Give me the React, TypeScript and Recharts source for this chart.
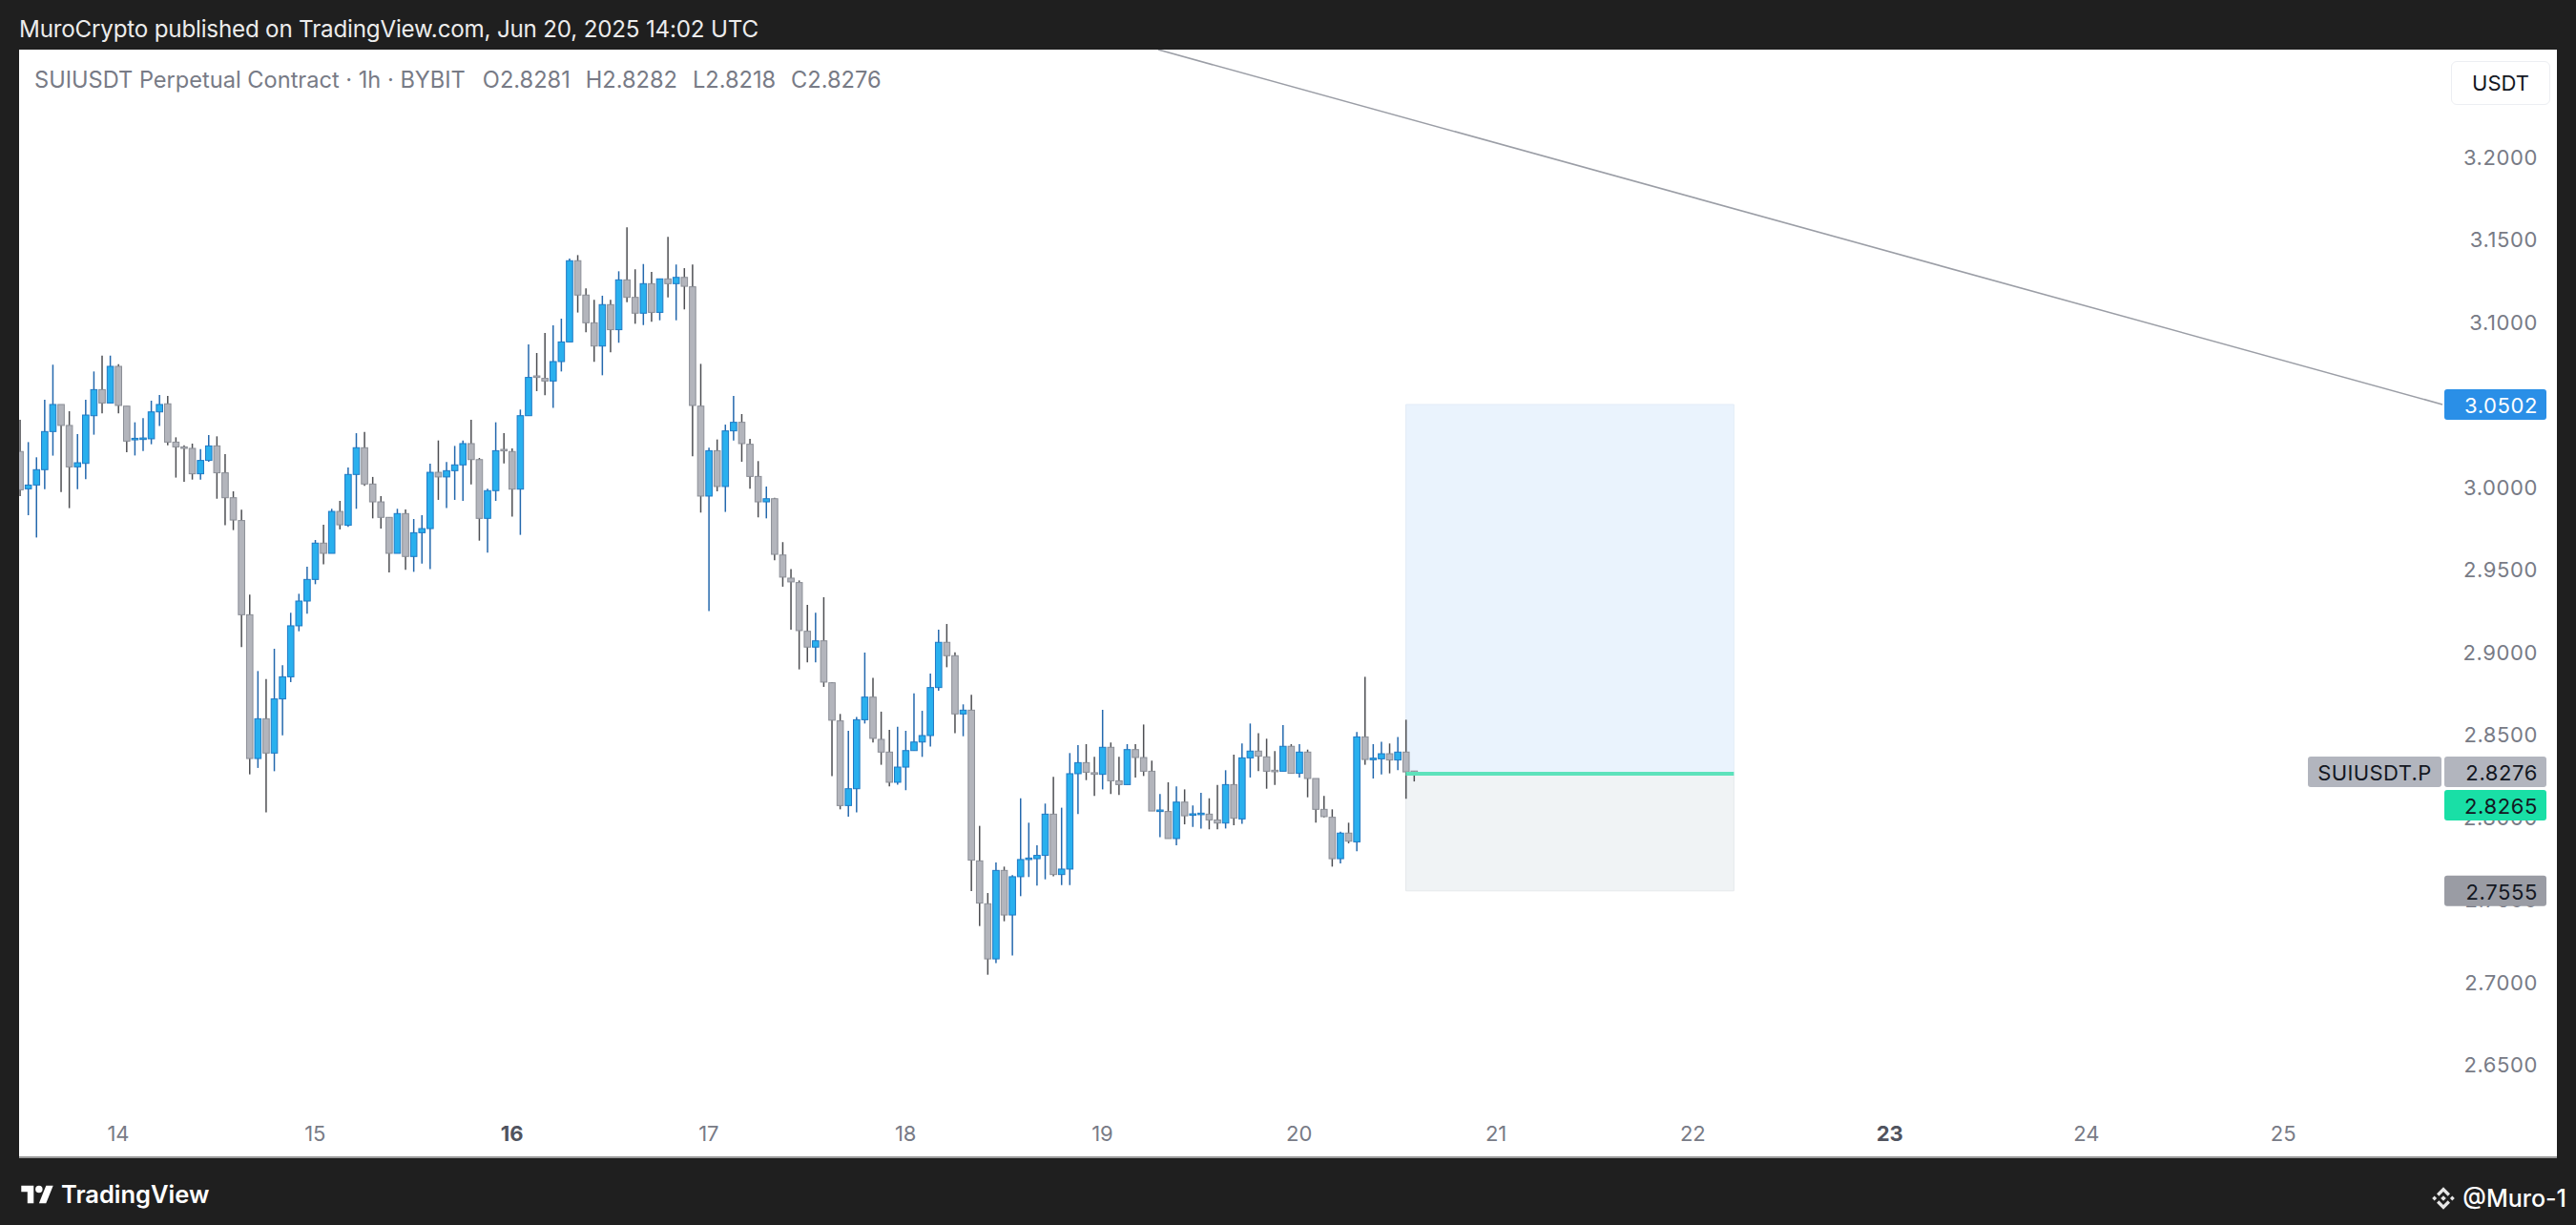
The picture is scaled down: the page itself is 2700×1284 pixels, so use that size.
import React from 'react';
import { Bar, ComposedChart, ReferenceArea, ReferenceLine, XAxis, YAxis } from 'recharts';

// hours counted from Jun 14 00:00 UTC; first candle is Jun 13 12:00
const FIRST_HOUR = -12;

const opens = [
  3.0217, 2.9991, 3.0014, 3.0107, 3.0338, 3.0502, 3.0375, 3.0124, 3.0145, 3.0434, 3.0592, 3.0511,
  3.0733, 3.0492, 3.0294, 3.0296, 3.0294, 3.0457, 3.0506, 3.0274, 3.0245, 3.0236, 3.0082, 3.0163,
  3.0251, 3.0088, 2.9937, 2.9799, 2.9228, 2.8357, 2.8598, 2.839, 2.8718, 2.8852, 2.9161, 2.9311,
  2.9442, 2.9662, 2.96, 2.9854, 2.977, 3.0078, 3.024, 3.002, 2.9912, 2.9818, 2.96, 2.9841,
  2.9581, 2.9725, 2.975, 3.0091, 3.0063, 3.0101, 3.0136, 3.0265, 3.0168, 2.9812, 2.998, 3.023,
  3.0217, 2.9989, 3.0434, 3.0675, 3.066, 3.0644, 3.0762, 3.0881, 3.1373, 3.1165, 3.0997, 3.0856,
  3.1107, 3.0955, 3.1257, 3.1151, 3.1055, 3.1234, 3.106, 3.1263, 3.1234, 3.1272, 3.1215, 3.0492,
  2.9947, 3.0222, 3.0005, 3.0342, 3.0394, 3.0261, 3.0066, 2.9912, 2.9931, 2.959, 2.945, 2.9423,
  2.9128, 2.9032, 2.907, 2.8816, 2.8585, 2.8072, 2.8174, 2.8592, 2.8729, 2.8473, 2.8396, 2.8213,
  2.8305, 2.8405, 2.8457, 2.8496, 2.8787, 2.9061, 2.898, 2.8627, 2.865, 2.7737, 2.7477, 2.7143,
  2.7679, 2.7409, 2.7641, 2.7745, 2.775, 2.777, 2.802, 2.7654, 2.7687, 2.8265, 2.8332, 2.8271,
  2.8261, 2.8425, 2.8222, 2.8199, 2.8411, 2.8363, 2.828, 2.8039, 2.8036, 2.7872, 2.8093, 2.8016,
  2.802, 2.802, 2.7985, 2.7966, 2.8199, 2.7991, 2.8361, 2.8402, 2.8367, 2.8286, 2.828, 2.8431,
  2.8267, 2.8396, 2.8236, 2.8049, 2.8001, 2.775, 2.7905, 2.7852, 2.8488, 2.8353, 2.8355, 2.8386,
  2.8348, 2.8396, 2.8281,
];

const highs = [
  3.0409, 3.0274, 3.0182, 3.0531, 3.0743, 3.0502, 3.0461, 3.0323, 3.0531, 3.0702, 3.0798, 3.0798,
  3.0746, 3.0492, 3.0394, 3.0419, 3.0525, 3.056, 3.0554, 3.0303, 3.0255, 3.0265, 3.0232, 3.0317,
  3.0309, 3.0201, 2.9976, 2.9864, 2.935, 2.8887, 2.8839, 2.9022, 2.8922, 2.924, 2.9355, 2.9519,
  2.9681, 2.9773, 2.987, 2.9918, 3.012, 3.0328, 3.0336, 3.0063, 2.9947, 2.9818, 2.987, 2.9866,
  2.9808, 2.9831, 3.0143, 3.0284, 3.0153, 3.0251, 3.0284, 3.0409, 3.0178, 2.9991, 3.0394, 3.0328,
  3.0236, 3.0471, 3.0866, 3.0814, 3.0935, 3.0982, 3.1022, 3.1386, 3.1407, 3.1205, 3.1136, 3.1161,
  3.1136, 3.1309, 3.1575, 3.1321, 3.1353, 3.1305, 3.1263, 3.1517, 3.135, 3.1328, 3.135, 3.0748,
  3.024, 3.029, 3.038, 3.0554, 3.0444, 3.0294, 3.0159, 3.0005, 2.9937, 2.9668, 2.9504, 2.9436,
  2.9288, 2.924, 2.9334, 2.882, 2.8627, 2.8525, 2.8608, 2.8999, 2.8845, 2.8641, 2.8531, 2.855,
  2.8525, 2.8752, 2.8646, 2.8872, 2.9138, 2.9172, 2.9, 2.8685, 2.8743, 2.7949, 2.7542, 2.7727,
  2.7702, 2.765, 2.8116, 2.7968, 2.7831, 2.8084, 2.8246, 2.8059, 2.839, 2.8438, 2.8444, 2.8367,
  2.8652, 2.8454, 2.8367, 2.8444, 2.8444, 2.8563, 2.8344, 2.8142, 2.8213, 2.8188, 2.817, 2.8072,
  2.8149, 2.8116, 2.8197, 2.8286, 2.838, 2.8448, 2.8569, 2.8511, 2.8477, 2.8402, 2.856, 2.8444,
  2.8444, 2.8411, 2.8236, 2.813, 2.8049, 2.7914, 2.7968, 2.8517, 2.8852, 2.8444, 2.8459, 2.8448,
  2.8488, 2.8592, 2.8282,
];

const lows = [
  2.9947, 2.9831, 2.9696, 2.9989, 3.0192, 2.9972, 2.9874, 2.9989, 3.0049, 3.0319, 3.0448, 3.0511,
  3.0448, 3.0213, 3.0193, 3.022, 3.0261, 3.0371, 3.0255, 3.0059, 3.0034, 3.0047, 3.0047, 3.0155,
  2.9931, 2.977, 2.9741, 2.9032, 2.8261, 2.83, 2.803, 2.828, 2.8498, 2.882, 2.9128, 2.9234,
  2.9413, 2.9533, 2.96, 2.9745, 2.976, 2.987, 3.0009, 2.9812, 2.975, 2.9484, 2.96, 2.95,
  2.9488, 2.9538, 2.9504, 2.9924, 2.9874, 2.9924, 2.9918, 3.0018, 2.9677, 2.9604, 2.9918, 3.0145,
  2.9822, 2.9712, 3.0434, 3.0583, 3.0558, 3.0482, 3.0702, 3.0881, 3.1059, 3.0939, 3.076, 3.0679,
  3.0818, 3.0876, 3.1122, 3.0991, 3.0983, 3.1003, 3.1012, 3.1151, 3.1012, 3.1078, 3.0188, 2.9847,
  2.925, 2.9976, 2.9851, 3.0284, 3.0155, 2.9991, 2.9818, 2.9812, 2.9558, 2.9398, 2.9138, 2.8897,
  2.8939, 2.8939, 2.8791, 2.8251, 2.8049, 2.8005, 2.803, 2.8569, 2.8454, 2.8319, 2.8188, 2.8199,
  2.8165, 2.8405, 2.8367, 2.8429, 2.8768, 2.891, 2.8511, 2.8492, 2.7554, 2.7342, 2.7047, 2.7118,
  2.7371, 2.7163, 2.7523, 2.7639, 2.7587, 2.7625, 2.7644, 2.759, 2.759, 2.802, 2.8226, 2.813,
  2.817, 2.8142, 2.8136, 2.8199, 2.8242, 2.8251, 2.8039, 2.7881, 2.7872, 2.7831, 2.7958, 2.7943,
  2.7933, 2.7928, 2.7928, 2.7933, 2.7953, 2.7962, 2.8242, 2.828, 2.8174, 2.8197, 2.828, 2.8267,
  2.8242, 2.8122, 2.7968, 2.8001, 2.7702, 2.7721, 2.7843, 2.7795, 2.8319, 2.8236, 2.8261, 2.8267,
  2.8286, 2.8113, 2.8218,
];

const closes = [
  2.9985, 3.0014, 3.0107, 3.0338, 3.0502, 3.0375, 3.0124, 3.0149, 3.0438, 3.0592, 3.0511, 3.0733,
  3.0496, 3.028, 3.0297, 3.0299, 3.0457, 3.0502, 3.0274, 3.0245, 3.0236, 3.0082, 3.0163, 3.0251,
  3.0088, 2.9937, 2.9802, 2.9228, 2.8357, 2.8598, 2.839, 2.8718, 2.8852, 2.9161, 2.9311, 2.9442,
  2.9662, 2.96, 2.9854, 2.9773, 3.0078, 3.024, 3.002, 2.9912, 2.9818, 2.96, 2.9841, 2.9581,
  2.9725, 2.975, 3.0091, 3.0063, 3.0101, 3.0136, 3.0265, 3.0168, 2.9812, 2.998, 3.0222, 3.0222,
  2.9989, 3.0434, 3.0666, 3.0666, 3.0644, 3.0762, 3.0881, 3.1373, 3.1165, 3.0997, 3.0856, 3.1107,
  3.0955, 3.1257, 3.1151, 3.1055, 3.1234, 3.106, 3.1263, 3.1234, 3.1272, 3.1218, 3.0496, 2.9947,
  3.0222, 3.0005, 3.0342, 3.0394, 3.0265, 3.0066, 2.9912, 2.9931, 2.9594, 2.9456, 2.9427, 2.9132,
  2.9032, 2.907, 2.882, 2.8589, 2.8072, 2.8174, 2.8592, 2.8729, 2.8479, 2.8396, 2.8213, 2.8305,
  2.8405, 2.8457, 2.8496, 2.8787, 2.9061, 2.898, 2.8627, 2.865, 2.7741, 2.7481, 2.7143, 2.7679,
  2.7409, 2.7641, 2.7745, 2.7754, 2.777, 2.802, 2.7654, 2.7687, 2.8265, 2.8332, 2.8274, 2.8261,
  2.8425, 2.8222, 2.8199, 2.8411, 2.8363, 2.828, 2.8039, 2.8045, 2.7872, 2.8093, 2.801, 2.8022,
  2.8026, 2.7985, 2.7966, 2.8199, 2.7995, 2.8361, 2.8402, 2.8371, 2.828, 2.828, 2.8431, 2.8267,
  2.8396, 2.8236, 2.8049, 2.8005, 2.775, 2.7905, 2.7856, 2.8488, 2.8351, 2.8359, 2.8386, 2.8348,
  2.8396, 2.8276, 2.8276,
];

const dayTicks = [0, 24, 48, 72, 96, 120, 144, 168, 192, 216, 240, 264];
const dayLabels = ['14', '15', '16', '17', '18', '19', '20', '21', '22', '23', '24', '25'];
const weekStartDays = ['16', '23'];
const priceTicks = [2.65, 2.7, 2.75, 2.8, 2.85, 2.9, 2.95, 3.0, 3.05, 3.1, 3.15, 3.2];

const timeDomain = [-12.1, 283.4];
const priceDomain = [2.6207, 3.2652];

// drawn trend line (starts above the visible area)
const trendLine = [
  { x: 126.8, y: 3.2652 },
  { x: 283.4, y: 3.0502 },
];

// long position tool
const positionStart = 157;
const positionEnd = 197;
const targetPrice = 3.0502;
const entryPrice = 2.8265;
const stopPrice = 2.7555;
const lastPrice = 2.8276;

const legendValues = { o: '2.8281', h: '2.8282', l: '2.8218', c: '2.8276' };

const FONT = 'Inter, "Noto Sans", Roboto, sans-serif';
const UP_BODY = '#29b0ee';
const UP_EDGE = '#1f79c4';
const UP_WICK = '#2468ad';
const DOWN_BODY = '#b3b5bc';
const DOWN_EDGE = '#8b8e96';
const DOWN_WICK = '#4d4e52';

const CHART_W = 2660;
const CHART_H = 1160;
const X_AXIS_H = 45;
const Y_AXIS_W = 120;

const candles = opens.map((open, i) => ({
  t: FIRST_HOUR + i,
  open,
  high: highs[i],
  low: lows[i],
  close: closes[i],
  range: [lows[i], highs[i]],
}));

const Candle = (props: any) => {
  const { x, y, width, height, payload } = props;
  if (!payload || height == null) return null;
  const { open, close, high, low } = payload;
  const up = close >= open;
  const cx = x + width / 2;
  const span = high - low || 1;
  const toY = (v: number) => y + ((high - v) / span) * height;
  const top = toY(Math.max(open, close));
  const bottom = toY(Math.min(open, close));
  const bodyH = Math.max(bottom - top, 1.6);
  const bodyW = 6.6;
  return (
    <g>
      <line x1={cx} x2={cx} y1={y} y2={y + height} stroke={up ? UP_WICK : DOWN_WICK} strokeWidth={1.5} />
      <rect
        x={cx - bodyW / 2}
        y={top}
        width={bodyW}
        height={bodyH}
        fill={up ? UP_BODY : DOWN_BODY}
        stroke={up ? UP_EDGE : DOWN_EDGE}
        strokeWidth={1}
      />
    </g>
  );
};

const DayTick = (props: any) => {
  const { x, y, payload } = props;
  const label = dayLabels[dayTicks.indexOf(payload.value)];
  const bold = weekStartDays.includes(label);
  return (
    <text
      x={x}
      y={y + 21}
      textAnchor="middle"
      dominantBaseline="central"
      fontFamily={FONT}
      fontSize={22}
      fontWeight={bold ? 700 : 400}
      fill={bold ? '#50535e' : '#787b86'}
    >
      {label}
    </text>
  );
};

const PriceTick = (props: any) => {
  const { x, y, payload } = props;
  return (
    <text
      x={x + 100}
      y={y}
      textAnchor="end"
      dominantBaseline="central"
      fontFamily={FONT}
      fontSize={22}
      letterSpacing={0.6}
      fill="#787b86"
    >
      {Number(payload.value).toFixed(4)}
    </text>
  );
};

const PriceTag = (props: any) => {
  const { viewBox, text, fill, color, dy = 0, name } = props;
  if (!viewBox) return null;
  const right = viewBox.x + viewBox.width;
  const cy = viewBox.y + dy;
  return (
    <g>
      {name && (
        <>
          <rect x={right - 141} y={cy - 16} width={140} height={32} rx={3} fill={fill} />
          <text
            x={right - 71}
            y={cy + 1}
            textAnchor="middle"
            dominantBaseline="central"
            fontFamily={FONT}
            fontSize={22}
            letterSpacing={0.4}
            fill={color}
          >
            {name}
          </text>
        </>
      )}
      <rect x={right + 2} y={cy - 16} width={107} height={32} rx={3} fill={fill} />
      <text
        x={right + 100}
        y={cy + 1}
        textAnchor="end"
        dominantBaseline="central"
        fontFamily={FONT}
        fontSize={22}
        letterSpacing={0.6}
        fill={color}
      >
        {text}
      </text>
    </g>
  );
};

const TvLogo = () => (
  <svg width={38} height={26} viewBox="0 0 36 28">
    <path d="M14 24H7V11H0V4h14z" fill="#ffffff" />
    <circle cx={20} cy={8} r={4} fill="#ffffff" />
    <path d="M28 4h8l-8 20h-8z" fill="#ffffff" />
  </svg>
);

const BnbIcon = () => (
  <svg width={28} height={28} viewBox="0 0 24 24">
    <g fill="#e6e6e6">
      <polygon points="12,9.6 14.4,12 12,14.4 9.6,12" />
      <polygon points="4,9.9 6.1,12 4,14.1 1.9,12" />
      <polygon points="20,9.9 22.1,12 20,14.1 17.9,12" />
      <polygon points="12,2 18,8 16,10 12,6 8,10 6,8" />
      <polygon points="12,22 18,16 16,14 12,18 8,14 6,16" />
    </g>
  </svg>
);

export default function App() {
  return (
    <div
      style={{
        position: 'absolute',
        left: 0,
        top: 0,
        width: 2700,
        height: 1284,
        background: '#1f1f1f',
        fontFamily: FONT,
        overflow: 'hidden',
      }}
    >
      <div
        style={{
          position: 'absolute',
          left: 20,
          top: 14,
          fontSize: 24.2,
          color: '#ececec',
          lineHeight: '34px',
          letterSpacing: -0.2,
        }}
      >
        MuroCrypto published on TradingView.com, Jun 20, 2025 14:02 UTC
      </div>

      <div
        style={{
          position: 'absolute',
          left: 20,
          top: 52,
          width: 2660,
          height: 1162,
          background: '#ffffff',
          borderBottom: '2px solid #9a9a9a',
          boxSizing: 'border-box',
        }}
      >
        <ComposedChart
          width={CHART_W}
          height={CHART_H}
          data={candles}
          margin={{ top: 0, right: 0, bottom: 0, left: 0 }}
        >
          <XAxis
            dataKey="t"
            type="number"
            domain={timeDomain}
            allowDataOverflow
            ticks={dayTicks}
            interval={0}
            height={X_AXIS_H}
            tickLine={false}
            axisLine={false}
            tickSize={0}
            tickMargin={0}
            tick={<DayTick />}
          />
          <YAxis
            orientation="right"
            type="number"
            domain={priceDomain}
            allowDataOverflow
            ticks={priceTicks}
            interval={0}
            width={Y_AXIS_W}
            tickLine={false}
            axisLine={false}
            tickSize={0}
            tickMargin={0}
            tick={<PriceTick />}
          />
          <ReferenceArea
            x1={positionStart}
            x2={positionEnd}
            y1={entryPrice}
            y2={targetPrice}
            fill="#eaf3fd"
            fillOpacity={1}
            stroke="#e3ecf7"
            ifOverflow="visible"
          />
          <ReferenceArea
            x1={positionStart}
            x2={positionEnd}
            y1={stopPrice}
            y2={entryPrice}
            fill="#f0f3f5"
            fillOpacity={1}
            stroke="#e6e9ec"
            ifOverflow="visible"
          />
          <Bar dataKey="range" barSize={7} shape={(p: any) => <Candle {...p} />} isAnimationActive={false} />
          <ReferenceLine
            segment={[
              { x: positionStart, y: entryPrice },
              { x: positionEnd, y: entryPrice },
            ]}
            stroke="#5de2bb"
            strokeWidth={4}
          />
          <ReferenceLine segment={trendLine} stroke="#9b9ea6" strokeWidth={1.6} ifOverflow="visible" />
        </ComposedChart>

        {/* same scales again, on top, so the price tags cover the axis labels */}
        <div style={{ position: 'absolute', left: 0, top: 0 }}>
          <ComposedChart
            width={CHART_W}
            height={CHART_H}
            data={candles}
            margin={{ top: 0, right: 0, bottom: 0, left: 0 }}
          >
            <XAxis
              dataKey="t"
              type="number"
              domain={timeDomain}
              allowDataOverflow
              height={X_AXIS_H}
              tick={false}
              tickLine={false}
              axisLine={false}
            />
            <YAxis
              orientation="right"
              type="number"
              domain={priceDomain}
              allowDataOverflow
              width={Y_AXIS_W}
              tick={false}
              tickLine={false}
              axisLine={false}
            />
            <ReferenceLine
              y={targetPrice}
              stroke="none"
              label={<PriceTag text={targetPrice.toFixed(4)} fill="#2a8fe7" color="#ffffff" />}
            />
            <ReferenceLine
              y={lastPrice}
              stroke="none"
              label={<PriceTag text={lastPrice.toFixed(4)} name="SUIUSDT.P" fill="#b2b5be" color="#131722" />}
            />
            <ReferenceLine
              y={entryPrice}
              stroke="none"
              label={<PriceTag text={entryPrice.toFixed(4)} fill="#19dfa6" color="#131722" dy={33} />}
            />
            <ReferenceLine
              y={stopPrice}
              stroke="none"
              label={<PriceTag text={stopPrice.toFixed(4)} fill="#9a9ca4" color="#131722" />}
            />
          </ComposedChart>
        </div>

        <div
          style={{
            position: 'absolute',
            left: 16,
            top: 17,
            fontSize: 23.6,
            color: '#787b86',
            lineHeight: '30px',
            whiteSpace: 'pre',
          }}
        >
          {'SUIUSDT Perpetual Contract · 1h · BYBIT'}
          <span style={{ marginLeft: 18 }}>O{legendValues.o}</span>
          <span style={{ marginLeft: 16 }}>H{legendValues.h}</span>
          <span style={{ marginLeft: 16 }}>L{legendValues.l}</span>
          <span style={{ marginLeft: 16 }}>C{legendValues.c}</span>
        </div>

        <div
          style={{
            position: 'absolute',
            left: 2549,
            top: 12,
            width: 104,
            height: 46,
            border: '1px solid #eceef2',
            borderRadius: 6,
            boxSizing: 'border-box',
            display: 'flex',
            alignItems: 'center',
            justifyContent: 'center',
            fontSize: 22,
            color: '#131722',
          }}
        >
          USDT
        </div>
      </div>

      <div
        style={{
          position: 'absolute',
          left: 20,
          top: 1236,
          display: 'flex',
          alignItems: 'center',
          gap: 6,
          color: '#ffffff',
          fontSize: 25.5,
          fontWeight: 600,
        }}
      >
        <TvLogo />
        <span>TradingView</span>
      </div>

      <div
        style={{
          position: 'absolute',
          right: 10,
          top: 1241,
          display: 'flex',
          alignItems: 'center',
          gap: 6,
          color: '#ffffff',
          fontSize: 25,
          fontWeight: 500,
        }}
      >
        <BnbIcon />
        <span>@Muro-1</span>
      </div>
    </div>
  );
}
